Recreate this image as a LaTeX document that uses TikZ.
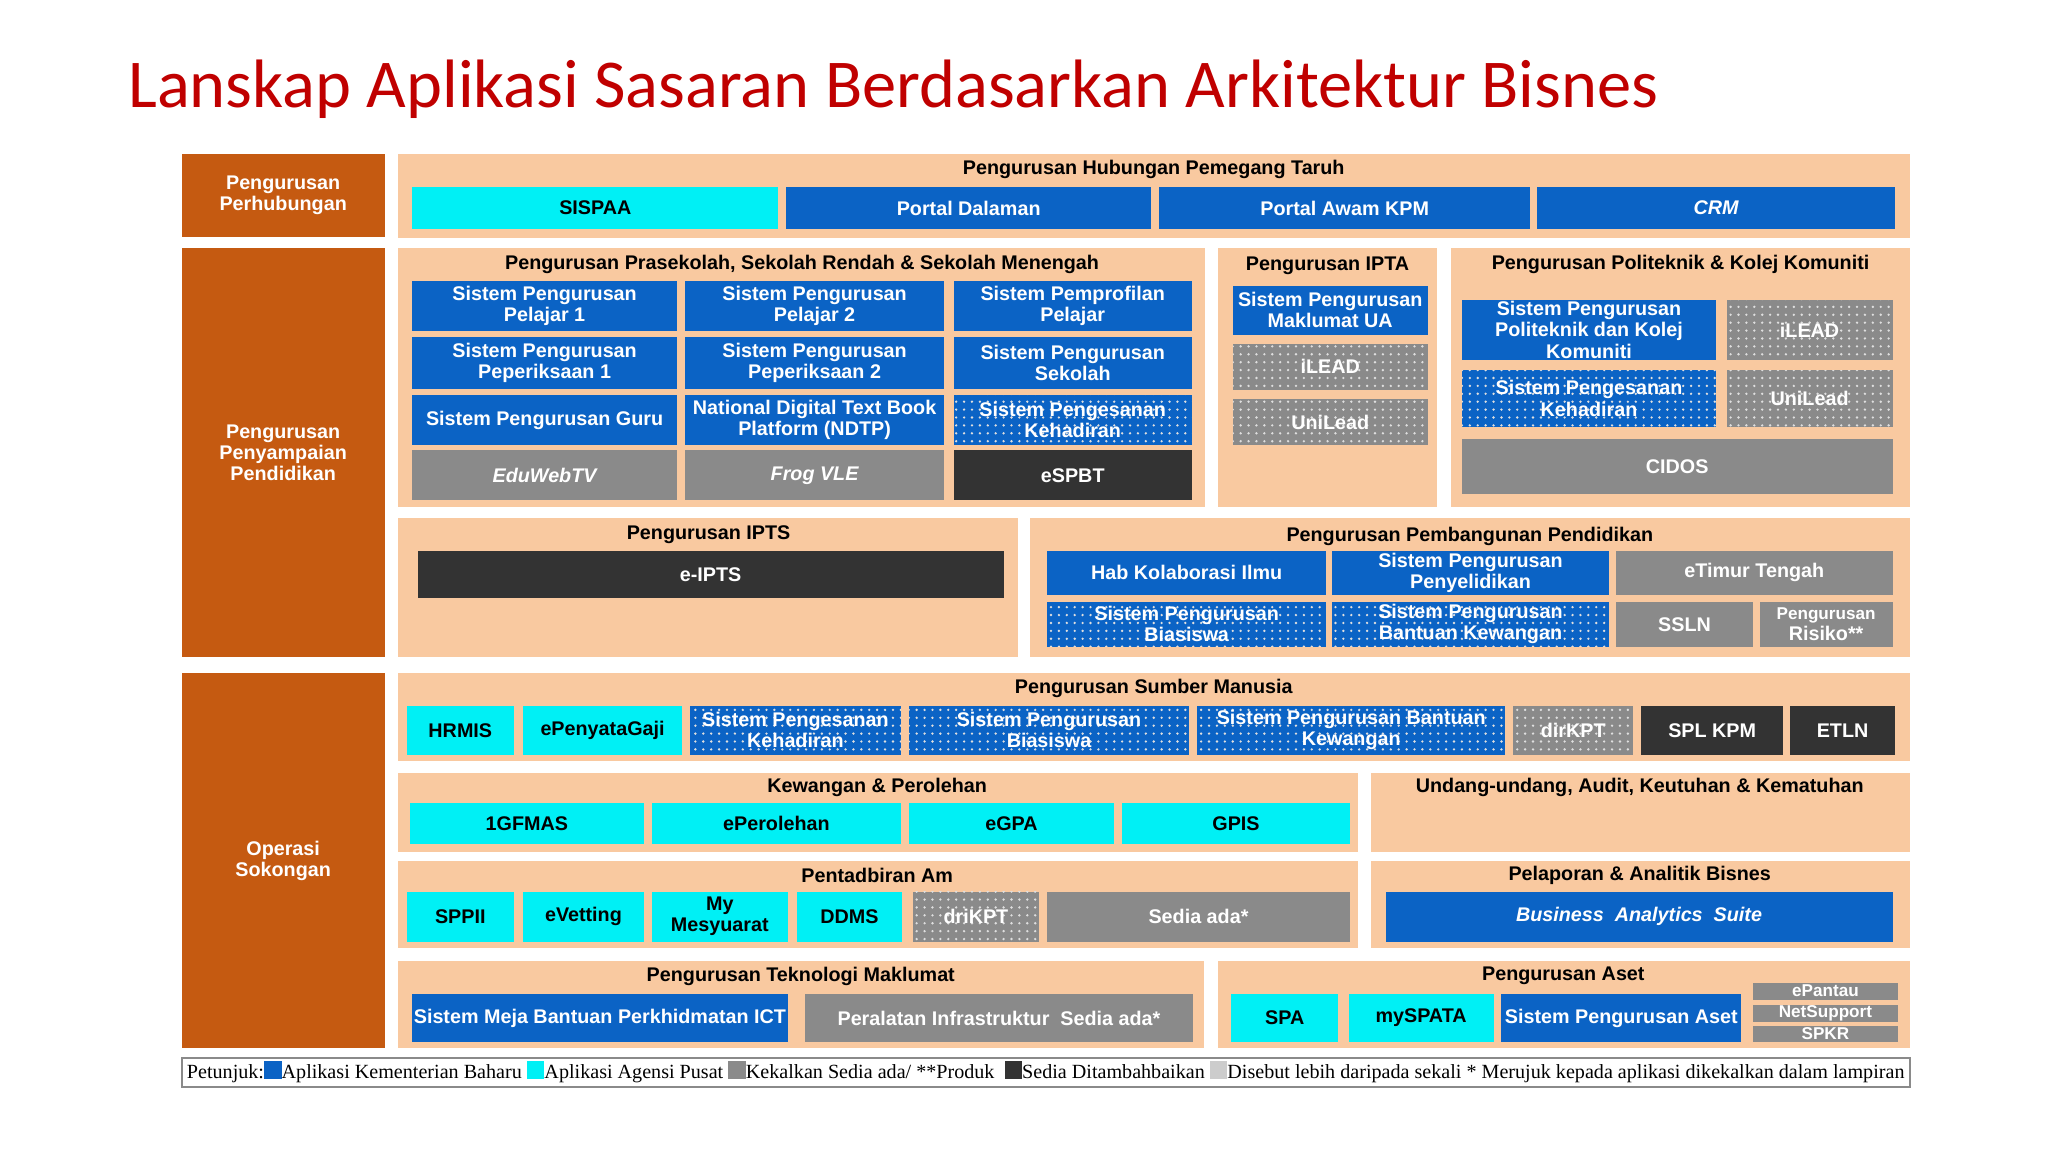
\documentclass[tikz,border=0pt]{standalone}
\usepackage{fontspec}
\usepackage{graphicx}
\setmainfont{Liberation Sans}
\newfontfamily\titlefont{Carlito}
\newfontfamily\legfont{Liberation Serif}
\usetikzlibrary{patterns}
\definecolor{peach}{HTML}{F9C9A0}
\definecolor{rust}{HTML}{C55A11}
\definecolor{kblue}{HTML}{0B63C5}
\definecolor{kcyan}{HTML}{00F0F5}
\definecolor{kgray}{HTML}{8A8A8A}
\definecolor{kdark}{HTML}{333333}
\definecolor{tred}{HTML}{C00000}
\tikzset{
 blu/.style={fill=kblue,text=white},
 cya/.style={fill=kcyan,text=black},
 gra/.style={fill=kgray,text=white},
 drk/.style={fill=kdark,text=white},
 dot/.style={postaction={pattern=dots,pattern color=white!75!gray}},
 pan/.style={fill=peach},
 lft/.style={fill=rust,text=white,font=\bfseries\fontsize{9.5}{11}\selectfont},
 ptitle/.style={font=\bfseries\fontsize{7.5}{9}\selectfont,text=black,inner sep=0pt},
}
\newcommand\myB[7]{\node[#6,inner sep=0pt,align=center,font=\bfseries\fontsize{7.5}{8}\selectfont,
 minimum width={0.5pt*(#3-#1)},minimum height={0.5pt*(#4-#2)}] (#5) at ({(#1+#3)/2},{-(#2+#4)/2}) {#7};}
\newcommand\myP[5]{\node[pan,inner sep=0pt,minimum width={0.5pt*(#3-#1)},minimum height={0.5pt*(#4-#2)}] (#5) at ({(#1+#3)/2},{-(#2+#4)/2}) {};}
\begin{document}
\begin{tikzpicture}[x=0.5pt,y=0.5pt]
\useasboundingbox[fill=white] (0,0) rectangle (1555,-875);
\node[anchor=west,inner sep=0pt,text=tred,font=\titlefont\fontsize{26}{30}\selectfont] (title) at (97,-68) {Lanskap Aplikasi Sasaran Berdasarkan Arkitektur Bisnes};
% left column
\myB{138}{117}{292}{180}{L1}{lft}{Pengurusan\\Perhubungan}
\myB{138}{188}{292}{499}{L2}{lft}{Pengurusan\\Penyampaian\\Pendidikan}
\myB{138}{511}{292}{796}{L3}{lft}{Operasi\\Sokongan}
% P1
\myP{302}{117}{1450}{181}{p1}
\node[ptitle] (t1) at (876,-129) {Pengurusan Hubungan Pemegang Taruh};
\myB{313}{142}{591}{174}{a1}{cya}{SISPAA}
\myB{597}{142}{874}{174}{a2}{blu}{Portal Dalaman}
\myB{880}{142}{1162}{174}{a3}{blu}{Portal Awam KPM}
\myB{1167}{142}{1439}{174}{a4}{blu}{\itshape CRM}
% P2
\myP{302}{188}{915}{385}{p2}
\node[ptitle] (t2) at (609,-201) {Pengurusan Prasekolah, Sekolah Rendah \& Sekolah Menengah};
\myB{313}{213}{514}{251}{b1}{blu}{Sistem Pengurusan\\Pelajar 1}
\myB{520}{213}{717}{251}{b2}{blu}{Sistem Pengurusan\\Pelajar 2}
\myB{724}{213}{905}{251}{b3}{blu}{Sistem Pemprofilan\\Pelajar}
\myB{313}{256}{514}{295}{b4}{blu}{Sistem Pengurusan\\Peperiksaan 1}
\myB{520}{256}{717}{295}{b5}{blu}{Sistem Pengurusan\\Peperiksaan 2}
\myB{724}{256}{905}{295}{b6}{blu}{Sistem Pengurusan\\Sekolah}
\myB{313}{300}{514}{338}{b7}{blu}{Sistem Pengurusan Guru}
\myB{520}{300}{717}{338}{b8}{blu}{National Digital Text Book\\Platform (NDTP)}
\myB{724}{300}{905}{338}{b9}{blu,dot}{Sistem Pengesanan\\Kehadiran}
\myB{313}{342}{514}{380}{b10}{gra}{\itshape EduWebTV}
\myB{520}{342}{717}{380}{b11}{gra}{\itshape Frog VLE}
\myB{724}{342}{905}{380}{b12}{drk}{eSPBT}
% P3
\myP{925}{188}{1091}{385}{p3}
\node[ptitle] (t3) at (1008,-202) {Pengurusan IPTA};
\myB{936}{217}{1084}{254}{c1}{blu}{Sistem Pengurusan\\Maklumat UA}
\myB{936}{261}{1084}{296}{c2}{gra,dot}{iLEAD}
\myB{936}{303}{1084}{338}{c3}{gra,dot}{UniLead}
% P4
\myP{1102}{188}{1450}{385}{p4}
\node[ptitle] (t4) at (1276,-201) {Pengurusan Politeknik \& Kolej Komuniti};
\myB{1110}{228}{1303}{273}{d1}{blu}{Sistem Pengurusan\\Politeknik dan Kolej\\Komuniti}
\myB{1311}{228}{1437}{273}{d2}{gra,dot}{iLEAD}
\myB{1110}{281}{1303}{324}{d3}{blu,dot}{Sistem Pengesanan\\Kehadiran}
\myB{1311}{281}{1437}{324}{d4}{gra,dot}{UniLead}
\myB{1110}{333}{1437}{375}{d5}{gra}{CIDOS}
% P5
\myP{302}{393}{773}{499}{p5}
\node[ptitle] (t5) at (538,-406) {Pengurusan IPTS};
\myB{317}{418}{762}{454}{e1}{drk}{e-IPTS}
% P6
\myP{782}{393}{1450}{499}{p6}
\node[ptitle] (t6) at (1116,-407) {Pengurusan Pembangunan Pendidikan};
\myB{795}{418}{1007}{452}{f1}{blu}{Hab Kolaborasi Ilmu}
\myB{1011}{418}{1222}{452}{f2}{blu}{Sistem Pengurusan\\Penyelidikan}
\myB{1227}{418}{1437}{452}{f3}{gra}{eTimur Tengah}
\myB{795}{457}{1007}{491}{f4}{blu,dot}{Sistem Pengurusan\\Biasiswa}
\myB{1011}{457}{1222}{491}{f5}{blu,dot}{Sistem Pengurusan\\Bantuan Kewangan}
\myB{1227}{457}{1331}{491}{f6}{gra}{SSLN}
\myB{1336}{457}{1437}{491}{f7}{gra}{\fontsize{6.5}{7}\selectfont Pengurusan\\Risiko**}
% P7
\myP{302}{511}{1450}{578}{p7}
\node[ptitle] (t7) at (876,-523) {Pengurusan Sumber Manusia};
\myB{309}{536}{390}{573}{g1}{cya}{HRMIS}
\myB{397}{536}{518}{573}{g2}{cya}{ePenyataGaji}
\myB{524}{536}{684}{573}{g3}{blu,dot}{Sistem Pengesanan\\Kehadiran}
\myB{690}{536}{903}{573}{g4}{blu,dot}{Sistem Pengurusan\\Biasiswa}
\myB{909}{536}{1143}{573}{g5}{blu,dot}{Sistem Pengurusan Bantuan\\Kewangan}
\myB{1149}{536}{1240}{573}{g6}{gra,dot}{dirKPT}
\myB{1246}{536}{1354}{573}{g7}{drk}{SPL KPM}
\myB{1359}{536}{1439}{573}{g8}{drk}{ETLN}
% P8
\myP{302}{587}{1031}{647}{p8}
\node[ptitle] (t8) at (666,-598) {Kewangan \& Perolehan};
\myB{311}{610}{489}{641}{h1}{cya}{1GFMAS}
\myB{495}{610}{684}{641}{h2}{cya}{ePerolehan}
\myB{690}{610}{846}{641}{h3}{cya}{eGPA}
\myB{852}{610}{1025}{641}{h4}{cya}{GPIS}
% P9
\myP{1041}{587}{1450}{647}{p9}
\node[ptitle] (t9) at (1245,-598) {Undang-undang, Audit, Keutuhan \& Kematuhan};
% P10
\myP{302}{654}{1031}{720}{p10}
\node[ptitle] (t10) at (666,-665) {Pentadbiran Am};
\myB{309}{677}{390}{715}{i1}{cya}{SPPII}
\myB{397}{677}{489}{715}{i2}{cya}{eVetting}
\myB{495}{677}{598}{715}{i3}{cya}{My\\Mesyuarat}
\myB{605}{677}{685}{715}{i4}{cya}{DDMS}
\myB{693}{677}{789}{715}{i5}{gra,dot}{driKPT}
\myB{795}{677}{1025}{715}{i6}{gra}{Sedia ada*}
% P11
\myP{1041}{654}{1450}{720}{p11}
\node[ptitle] (t11) at (1245,-665) {Pelaporan \& Analitik Bisnes};
\myB{1052}{677}{1437}{715}{j1}{blu}{\itshape Business\ \ Analytics\ \ Suite}
% P12
\myP{302}{730}{914}{796}{p12}
\node[ptitle] (t12) at (608,-741) {Pengurusan Teknologi Maklumat};
\myB{313}{755}{598}{791}{k1}{blu}{Sistem Meja Bantuan Perkhidmatan ICT}
\myB{611}{755}{906}{791}{k2}{gra}{Peralatan Infrastruktur\ \ Sedia ada*}
% P13
\myP{925}{730}{1450}{796}{p13}
\node[ptitle] (t13) at (1187,-741) {Pengurusan Aset};
\myB{935}{755}{1016}{791}{m1}{cya}{SPA}
\myB{1024}{755}{1134}{791}{m2}{cya}{mySPATA}
\myB{1140}{755}{1322}{791}{m3}{blu}{Sistem Pengurusan Aset}
\myB{1331}{746}{1441}{759}{m4}{gra}{\fontsize{6.5}{7}\selectfont ePantau}
\myB{1331}{763}{1441}{776}{m5}{gra}{\fontsize{6.5}{7}\selectfont NetSupport}
\myB{1331}{779}{1441}{791}{m6}{gra}{\fontsize{6.5}{7}\selectfont SPKR}
% legend
\node[draw=kgray,line width=0.8pt,fill=white,inner sep=0pt,minimum width=656pt,minimum height=11pt] (leg) at (794,-814) {};
\node[inner sep=0pt] (legt) at (leg.center) {\resizebox{652pt}{!}{\legfont\fontsize{8}{9}\selectfont
Petunjuk:\textcolor{kblue}{\rule{7pt}{7pt}}Aplikasi Kementerian Baharu
\textcolor{kcyan}{\rule{7pt}{7pt}}Aplikasi Agensi Pusat
\textcolor{kgray}{\rule{7pt}{7pt}}Kekalkan Sedia ada/ **Produk \
\textcolor{kdark}{\rule{7pt}{7pt}}Sedia Ditambahbaikan
\textcolor{gray!40}{\rule{7pt}{7pt}}Disebut lebih daripada sekali * Merujuk kepada aplikasi dikekalkan dalam lampiran}};
\end{tikzpicture}
\end{document}
